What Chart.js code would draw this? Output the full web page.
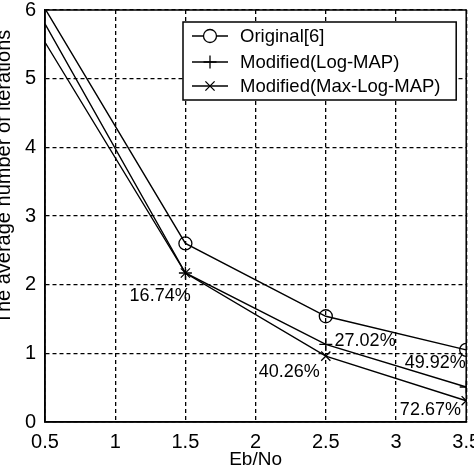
<!DOCTYPE html>
<html>
<head>
<meta charset="utf-8">
<script src="https://cdn.jsdelivr.net/npm/chart.js@4.4.1/dist/chart.umd.min.js"></script>
<style>
  html, body { margin: 0; padding: 0; background: #fff; }
</style>
</head>
<body>
<canvas id="myChart" width="474" height="474"></canvas>
<script>
// Eb/No values where the curves were measured
var ebno = [0.5, 1.5, 2.5, 3.5];
// average number of iterations
var original = [6.02, 2.6, 1.54, 1.05];
var logMap = [5.8, 2.17, 1.13, 0.51];
var maxLogMap = [5.53, 2.17, 0.96, 0.31];
var seriesNames = ['Original[6]', 'Modified(Log-MAP)', 'Modified(Max-Log-MAP)'];

// tick labels as printed on the figure
var xTickLabels = ['0.5', '1', '1.5', '2', '2.5', '3', '3.5'];
var yTickLabels = ['0', '1', '2', '3', '4', '5', '6'];

// reduction labels, placed in data units (Eb/No, iterations)
var pctLabels = ['16.74%', '27.02%', '40.26%', '49.92%', '72.67%'];
var pctX = [1.32, 2.78, 2.24, 3.28, 3.245];
var pctY = [1.83, 1.18, 0.73, 0.86, 0.17];

var FONT = '"Liberation Sans", Arial, Helvetica, sans-serif';

function toPoints(ys) {
  return ebno.map(function (x, i) { return { x: x, y: ys[i] }; });
}

// first point sits on the axis edge, no marker there
var markerRadius = [0, 6.5, 6.5, 6.5];

function makeSet(label, ys, style) {
  return {
    label: label,
    data: toPoints(ys),
    showLine: true,
    borderColor: '#000',
    backgroundColor: 'rgba(0,0,0,0)',
    borderWidth: 1.4,
    pointStyle: style,
    pointRadius: markerRadius,
    pointBorderColor: '#000',
    pointBorderWidth: 1.3,
    pointBackgroundColor: 'rgba(0,0,0,0)',
    tension: 0
  };
}

var ctx = document.getElementById('myChart');

// solid box round the plot
var framePlugin = {
  id: 'frame',
  beforeDatasetsDraw: function (chart) {
    var a = chart.chartArea, c = chart.ctx;
    c.save();
    c.strokeStyle = '#000';
    c.lineWidth = 1.5;
    c.strokeRect(a.left, a.top, a.right - a.left, a.bottom - a.top);
    c.restore();
  }
};

// percentage text + rotated y title (it is cut by the page edge)
var textPlugin = {
  id: 'texts',
  afterDatasetsDraw: function (chart) {
    var c = chart.ctx, xs = chart.scales.x, ys = chart.scales.y;
    c.save();
    c.fillStyle = '#000';
    c.font = '18px ' + FONT;
    c.textAlign = 'center';
    c.textBaseline = 'middle';
    pctLabels.forEach(function (t, i) {
      c.fillText(t, xs.getPixelForValue(pctX[i]), ys.getPixelForValue(pctY[i]));
    });
    c.restore();

    c.save();
    c.fillStyle = '#000';
    c.font = '20px ' + FONT;
    c.textAlign = 'center';
    c.textBaseline = 'alphabetic';
    c.translate(10, 177);
    c.rotate(-Math.PI / 2);
    c.fillText('The average number of iterations', 0, 0);
    c.restore();
  }
};

// legend box in the upper right of the plot
var legendPlugin = {
  id: 'boxLegend',
  afterDraw: function (chart) {
    var c = chart.ctx;
    var a = chart.chartArea;
    var left = 183, top = 22, right = a.right - 10, bottom = 100;
    var rows = [36, 62, 86];
    c.save();
    c.fillStyle = '#fff';
    c.fillRect(left, top, right - left, bottom - top);
    c.strokeStyle = '#000';
    c.lineWidth = 1.5;
    c.strokeRect(left, top, right - left, bottom - top);
    chart.data.datasets.forEach(function (ds, i) {
      var y = rows[i];
      c.beginPath();
      c.lineWidth = 1.4;
      c.moveTo(192, y);
      c.lineTo(228, y);
      c.stroke();
      c.lineWidth = 1.3;
      Chart.helpers.drawPoint(c, { pointStyle: ds.pointStyle, radius: 6.5, rotation: 0, borderWidth: 1.3 }, 210, y);
      c.fillStyle = '#000';
      c.font = '18.5px ' + FONT;
      c.textAlign = 'left';
      c.textBaseline = 'middle';
      c.fillText(seriesNames[i], 240, y + 1);
    });
    c.restore();
  }
};

var myChart = new Chart(ctx, {
  type: 'scatter',
  data: {
    datasets: [
      makeSet(seriesNames[0], original, 'circle'),
      makeSet(seriesNames[1], logMap, 'cross'),
      makeSet(seriesNames[2], maxLogMap, 'crossRot')
    ]
  },
  options: {
    responsive: false,
    animation: false,
    devicePixelRatio: 1,
    layout: { padding: { left: 0, right: 6, top: 10, bottom: 0 } },
    plugins: {
      legend: { display: false },
      tooltip: { enabled: false }
    },
    scales: {
      x: {
        type: 'linear',
        min: 0.5,
        max: 3.5,
        ticks: {
          stepSize: 0.5,
          color: '#000',
          padding: 8,
          maxRotation: 0,
          autoSkip: false,
          font: { family: FONT, size: 20 },
          callback: function (value, index) { return xTickLabels[index]; }
        },
        grid: { color: '#000', lineWidth: 1.3, drawTicks: false },
        border: { display: true, color: '#000', width: 1.5, dash: [4, 3] },
        title: {
          display: true,
          text: 'Eb/No',
          color: '#000',
          padding: { top: 0, bottom: 3 },
          font: { family: FONT, size: 19 }
        },
        afterFit: function (scale) {
          scale.height = 52;
          scale.paddingLeft = 0;
          scale.paddingRight = 0;
        }
      },
      y: {
        type: 'linear',
        min: 0,
        max: 6,
        ticks: {
          stepSize: 1,
          color: '#000',
          padding: 9,
          font: { family: FONT, size: 20 },
          callback: function (value, index) { return yTickLabels[index]; }
        },
        grid: { color: '#000', lineWidth: 1.3, drawTicks: false },
        border: { display: true, color: '#000', width: 1.5, dash: [4, 3] },
        afterFit: function (scale) {
          scale.width = 45;
          scale.paddingTop = 0;
          scale.paddingBottom = 0;
        }
      }
    }
  },
  plugins: [framePlugin, textPlugin, legendPlugin]
});
</script>
</body>
</html>
